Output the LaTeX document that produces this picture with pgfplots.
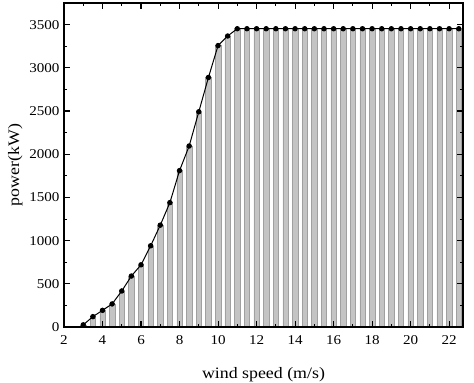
\documentclass[border=0pt]{standalone}
\usepackage{fontspec}
\setmainfont{Liberation Serif}[FakeStretch=1.12]
\usepackage{pgfplots}
\pgfplotsset{compat=1.18}
\definecolor{barfill}{RGB}{196,196,196}
\definecolor{baredge}{RGB}{160,160,160}
\begin{document}
\begin{tikzpicture}
\pgfplotstableread{
x y
3 25
3.5 120
4 193
4.5 267
5 417
5.5 590
6 720
6.5 940
7 1179
7.5 1440
8 1810
8.5 2095
9 2491
9.5 2888
10 3257
10.5 3368
11 3452
11.5 3452
12 3452
12.5 3452
13 3452
13.5 3452
14 3452
14.5 3452
15 3452
15.5 3452
16 3452
16.5 3452
17 3452
17.5 3452
18 3452
18.5 3452
19 3452
19.5 3452
20 3452
20.5 3452
21 3452
21.5 3452
22 3452
22.5 3452
}\powertab
\begin{axis}[
  scale only axis,
  width=399bp, height=324bp,
  xmin=2, xmax=22.72,
  ymin=0, ymax=3750,
  xtick={2,4,...,22},
  ytick={0,500,...,3500},
  minor xtick={3,5,...,21},
  minor ytick={250,750,...,3750},
  tick pos=both,
  tick align=inside,
  major tick length=6bp,
  minor tick length=3.5bp,
  axis line style={line width=1.1pt},
  every major tick/.append style={draw=black, line width=1.1pt},
  every minor tick/.append style={draw=black, line width=0.9pt},
  axis on top,
  /pgf/number format/assume math mode=true,
  scaled y ticks=false,
  yticklabel style={/pgf/number format/1000 sep={}, xshift=-1bp},
  xticklabel style={yshift=-5bp},
  tick label style={font=\fontsize{13.5}{13.5}\selectfont},
  label style={font=\fontsize{16}{16}\selectfont},
  xlabel={wind speed (m/s)},
  ylabel={power(kW)},
  xlabel style={yshift=-16bp},
  clip=false,
]
\addplot[ybar, bar width=0.28, fill=barfill, draw=baredge, line width=0.5pt] table[x=x,y=y]{\powertab};
\addplot[black, line width=1pt, mark=*, mark size=2.2pt, mark options={fill=black}] table[x=x,y=y]{\powertab};
\pgfplotsinvokeforeach{2,4,...,22}{
  \draw[black, line width=1.1pt] (axis cs:#1,0) -- (axis cs:#1,70);
  \draw[black, line width=1.1pt] (axis cs:#1,3750) -- (axis cs:#1,3680);
}
\pgfplotsinvokeforeach{3,5,...,21}{
  \draw[black, line width=0.9pt] (axis cs:#1,0) -- (axis cs:#1,40);
  \draw[black, line width=0.9pt] (axis cs:#1,3750) -- (axis cs:#1,3710);
}
\pgfplotsinvokeforeach{0,500,...,3500}{
  \draw[black, line width=1.1pt] (axis cs:2,#1) -- (axis cs:2.31,#1);
  \draw[black, line width=1.1pt] (axis cs:22.72,#1) -- (axis cs:22.41,#1);
}
\pgfplotsinvokeforeach{250,750,...,3250}{
  \draw[black, line width=0.9pt] (axis cs:2,#1) -- (axis cs:2.18,#1);
  \draw[black, line width=0.9pt] (axis cs:22.72,#1) -- (axis cs:22.54,#1);
}
\coordinate (bl) at (rel axis cs:0,0);
\coordinate (tr) at (rel axis cs:1,1);
\end{axis}
\pgfresetboundingbox
\path ([shift={(-64bp,-56bp)}]bl) rectangle ([shift={(11bp,3bp)}]tr);
\end{tikzpicture}
\end{document}
